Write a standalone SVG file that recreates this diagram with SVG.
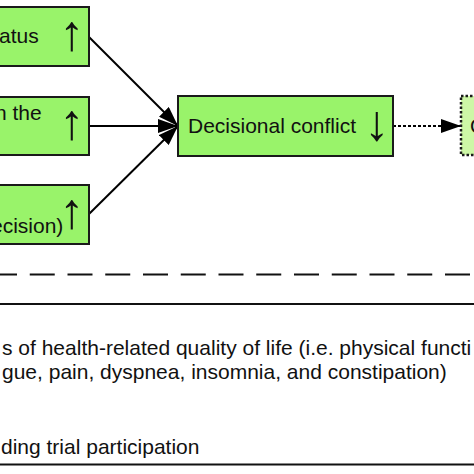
<svg xmlns="http://www.w3.org/2000/svg" width="474" height="474" viewBox="0 0 474 474">
<defs>
<style>
.box{fill:#99f36a;stroke:#1a1a1a;stroke-width:2}
.boxl{fill:#cdf7a6;stroke:#1a1a1a;stroke-width:2.5;stroke-dasharray:2.5,2}
.t{font-family:"Liberation Sans",Arial,sans-serif;font-size:21px;fill:#111}
.ar{font-family:"Liberation Sans",Arial,sans-serif;font-size:50px;fill:#111;text-anchor:middle}
.conn{stroke:#000;stroke-width:2;fill:none}
.rule{stroke:#111;stroke-width:2;fill:none}
</style>
<marker id="ah" markerWidth="20" markerHeight="14" refX="20" refY="7" orient="auto" markerUnits="userSpaceOnUse">
<path d="M0,0 L20,7 L0,14 z" fill="#000"/>
</marker>
</defs>
<rect width="474" height="474" fill="#fff"/>
<g id="connectors">
<line class="conn" x1="89" y1="37" x2="178" y2="126" marker-end="url(#ah)"/>
<line class="conn" x1="89" y1="126" x2="178" y2="126" marker-end="url(#ah)"/>
<line class="conn" x1="89" y1="214" x2="178" y2="126" marker-end="url(#ah)"/>
<line class="conn" x1="393" y1="126" x2="461" y2="126" stroke-dasharray="3,2" marker-end="url(#ah)"/>
</g>
<g id="node-status">
<rect class="box" x="-100" y="7" width="189" height="59"/>
<text class="t" x="-1" y="43">atus</text>
<text class="ar" x="72" y="50">↑</text>
</g>
<g id="node-the">
<rect class="box" x="-100" y="97" width="189" height="58"/>
<text class="t" x="-5" y="120">n the</text>
<text class="ar" x="72" y="139">↑</text>
</g>
<g id="node-decision">
<rect class="box" x="-100" y="185" width="189" height="59"/>
<text class="t" x="-9" y="233">ecision)</text>
<text class="ar" x="72" y="228">↑</text>
</g>
<g id="node-conflict">
<rect class="box" x="178" y="96" width="215" height="60"/>
<text class="t" x="188" y="133" textLength="168">Decisional conflict</text>
<text class="ar" x="377" y="140">↓</text>
</g>
<g id="node-outcome">
<rect class="boxl" x="461" y="96" width="60" height="59"/>
<text class="t" x="470" y="133">Q</text>
</g>
<line class="rule" x1="0" y1="274.5" x2="474" y2="274.5" stroke-dasharray="25,12.75" stroke-dashoffset="8"/>
<line class="rule" x1="0" y1="304" x2="474" y2="304"/>
<text class="t" x="2" y="355">s of health-related quality of life (i.e. physical functi</text>
<text class="t" x="2" y="379">gue, pain, dyspnea, insomnia, and constipation)</text>
<text class="t" x="1" y="454">ding trial participation</text>
<line class="rule" x1="0" y1="464.5" x2="474" y2="464.5"/>
</svg>
